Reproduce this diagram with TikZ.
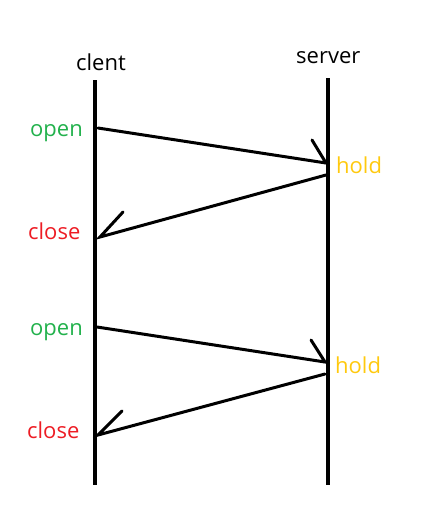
\documentclass[tikz,border=0pt]{standalone}
\usepackage{fontspec}
\setmainfont{Open Sans}
\definecolor{pgreen}{RGB}{34,177,76}
\definecolor{pred}{RGB}{237,28,36}
\definecolor{pyellow}{RGB}{255,201,14}
\begin{document}
\begin{tikzpicture}[x=1pt,y=-1pt,
  life/.style={line width=4.5pt},
  msg/.style={line width=3pt, line cap=round},
  lbl/.style={anchor=base west, inner sep=0pt, font=\fontsize{22}{26}\selectfont}]
\useasboundingbox (0,0) rectangle (443,520);
% lifelines
\coordinate (c0) at (95,80); \coordinate (c1) at (95,485);
\coordinate (s0) at (328,78); \coordinate (s1) at (328,485);
\draw[life] (c0) -- (c1);
\draw[life] (s0) -- (s1);
% headers
\node[lbl] (clent) at (76,70) {clent};
\node[lbl] (server) at (296,63) {server};
% labels
\node[lbl, text=pgreen] (open1) at (30,136) {open};
\node[lbl, text=pyellow] (hold1) at (336,173) {hold};
\node[lbl, text=pred] (close1) at (28,239) {close};
\node[lbl, text=pgreen] (open2) at (30,335) {open};
\node[lbl, text=pyellow] (hold2) at (335,373) {hold};
\node[lbl, text=pred] (close2) at (27,438) {close};
% message endpoints
\coordinate (a1s) at (98,128); \coordinate (a1e) at (326,163);
\coordinate (b1s) at (326,175); \coordinate (b1e) at (100,237);
\coordinate (a2s) at (97,327); \coordinate (a2e) at (325,362);
\coordinate (b2s) at (325,374); \coordinate (b2e) at (98,435);
% messages
\draw[msg] (a1s) -- (a1e) -- ++(-14,-23);
\draw[msg] (b1s) -- (b1e) -- ++(23,-25);
\draw[msg] (a2s) -- (a2e) -- ++(-14,-22);
\draw[msg] (b2s) -- (b2e) -- ++(24,-24);
\end{tikzpicture}
\end{document}
